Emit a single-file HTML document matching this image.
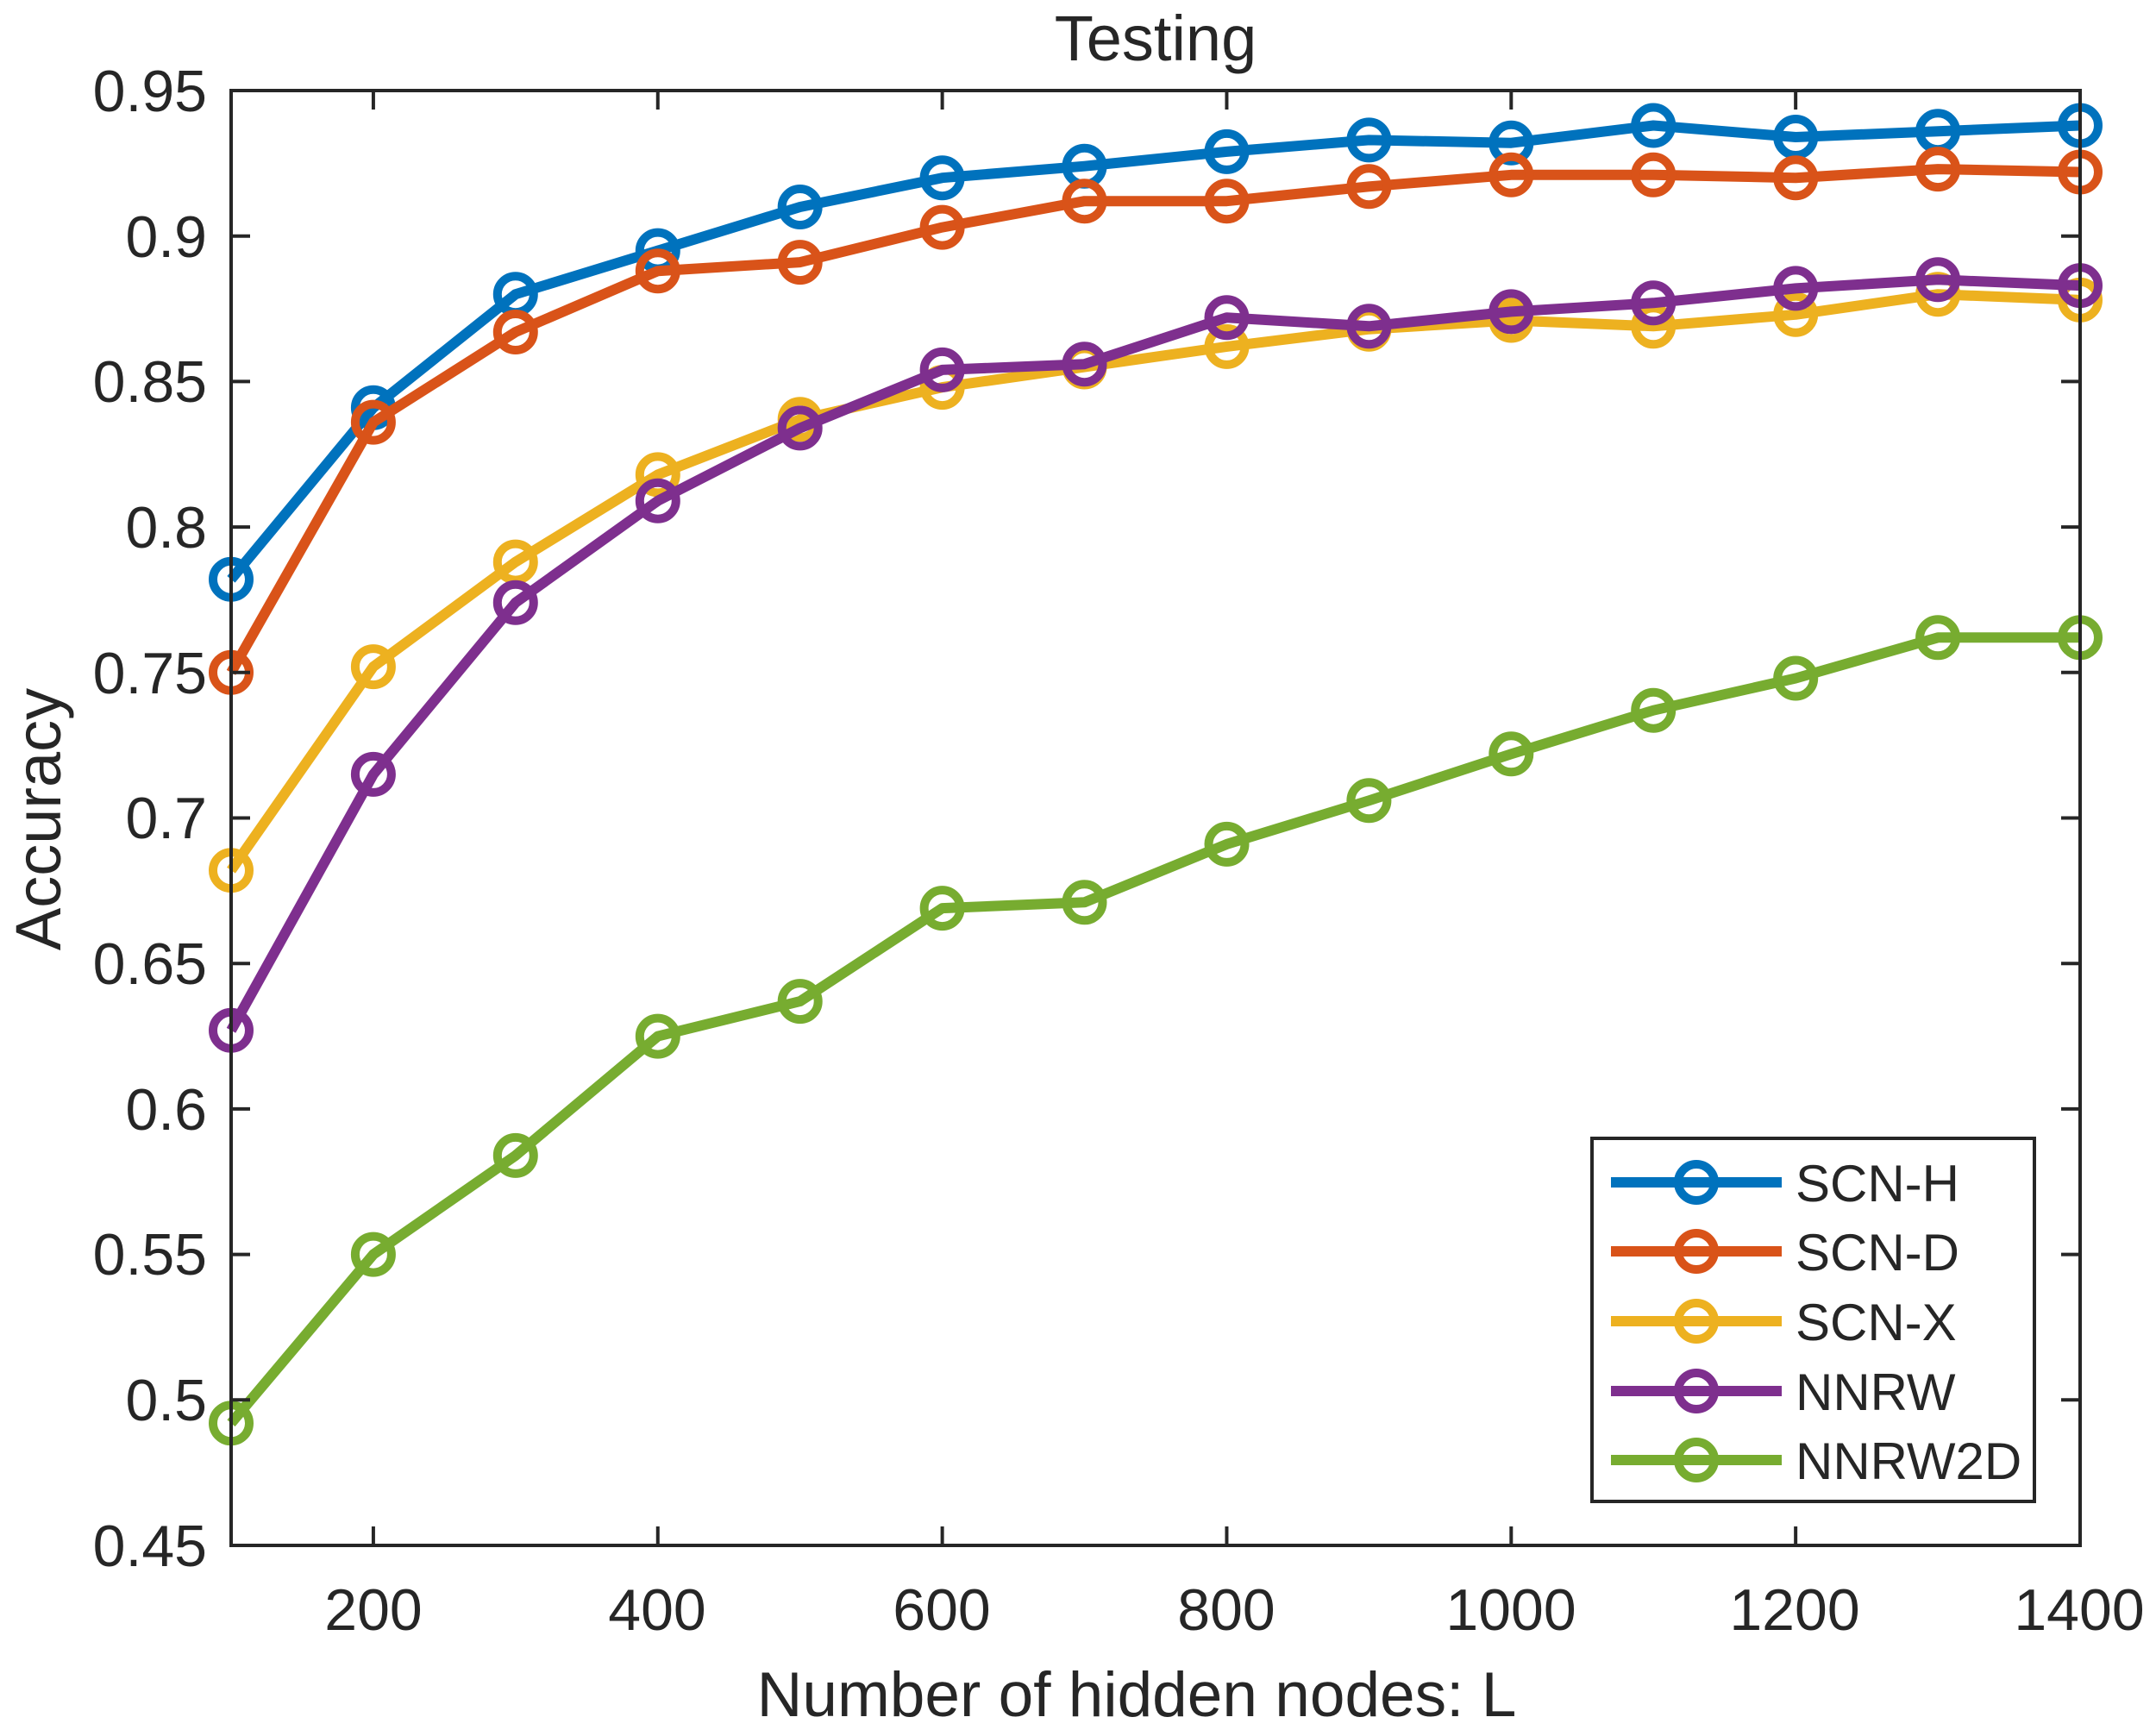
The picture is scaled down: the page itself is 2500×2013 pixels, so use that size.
<!DOCTYPE html>
<html><head><meta charset="utf-8"><style>
html,body{margin:0;padding:0;background:#fff;}
svg{display:block;}
text{font-family:"Liberation Sans",Arial,sans-serif;fill:#262626;}
</style></head><body>
<svg id="s" width="2500" height="2013" viewBox="0 0 2500 2013" xmlns="http://www.w3.org/2000/svg">
<rect width="2500" height="2013" fill="#fff"/>
<g id="data"></g>
<rect x="268" y="105" width="2144" height="1687" fill="none" stroke="#262626" stroke-width="4"/>
<g id="ticks" stroke="#262626" stroke-width="4"></g>
<g font-size="68" text-anchor="end">
<text x="240" y="129">0.95</text><text x="240" y="298">0.9</text><text x="240" y="466">0.85</text>
<text x="240" y="635">0.8</text><text x="240" y="804">0.75</text><text x="240" y="972">0.7</text>
<text x="240" y="1141">0.65</text><text x="240" y="1310">0.6</text><text x="240" y="1478">0.55</text>
<text x="240" y="1647">0.5</text><text x="240" y="1816">0.45</text>
</g>
<g font-size="68" text-anchor="middle">
<text x="433" y="1890">200</text><text x="762" y="1890">400</text><text x="1092" y="1890">600</text>
<text x="1422" y="1890">800</text><text x="1752" y="1890">1000</text><text x="2081" y="1890">1200</text>
<text x="2411" y="1890">1400</text>
<text x="1318" y="1990" font-size="73">Number of hidden nodes: L</text>
<text x="1340" y="70" font-size="74">Testing</text>
<text transform="translate(70,950) rotate(-90)" font-size="74">Accuracy</text>
</g>
<rect x="1846" y="1320" width="513" height="421" fill="#fff" stroke="#262626" stroke-width="4"/>
<g id="leg"></g>
<g font-size="60" fill="#000">
<text x="2082" y="1393">SCN-H</text><text x="2082" y="1473">SCN-D</text><text x="2082" y="1554">SCN-X</text>
<text x="2082" y="1635">NNRW</text><text x="2082" y="1715">NNRW2D</text>
</g>
</svg>
<script>
var L=268,R=2412,T=105,B=1792;
function X(v){return L+(v-100)/1300*(R-L);}
function Y(v){return B-(v-0.45)/0.5*(B-T);}
var S=[
["#0072bd",[0.782,0.841,0.880,0.895,0.910,0.920,0.924,0.929,0.933,0.932,0.938,0.934,0.936,0.938]],
["#d95319",[0.750,0.836,0.867,0.888,0.891,0.903,0.912,0.912,0.917,0.921,0.921,0.920,0.923,0.922]],
["#edb120",[0.682,0.752,0.788,0.818,0.837,0.848,0.855,0.862,0.868,0.871,0.869,0.873,0.880,0.878]],
["#7e2f8e",[0.627,0.715,0.774,0.809,0.834,0.854,0.856,0.872,0.869,0.874,0.877,0.882,0.885,0.883]],
["#77ac30",[0.492,0.550,0.584,0.625,0.637,0.669,0.671,0.691,0.706,0.722,0.737,0.748,0.762,0.762]]];
var h="";
S.forEach(function(s){var p=s[1].map(function(v,i){return X(100+i*100).toFixed(1)+","+Y(v).toFixed(1)}).join(" ");
h+='<polyline points="'+p+'" fill="none" stroke="'+s[0]+'" stroke-width="12" stroke-linejoin="round"/>';
s[1].forEach(function(v,i){h+='<circle cx="'+X(100+i*100).toFixed(1)+'" cy="'+Y(v).toFixed(1)+'" r="21" fill="none" stroke="'+s[0]+'" stroke-width="10"/>';});});
document.getElementById("data").innerHTML=h;
var t="";
for(var x=200;x<=1400;x+=200){var xx=X(x);t+='<line x1="'+xx+'" y1="'+B+'" x2="'+xx+'" y2="'+(B-22)+'"/><line x1="'+xx+'" y1="'+T+'" x2="'+xx+'" y2="'+(T+22)+'"/>';}
for(var k=0;k<=10;k++){var yy=Y(0.45+k*0.05);t+='<line x1="'+L+'" y1="'+yy+'" x2="'+(L+22)+'" y2="'+yy+'"/><line x1="'+R+'" y1="'+yy+'" x2="'+(R-22)+'" y2="'+yy+'"/>';}
document.getElementById("ticks").innerHTML=t;
var g="",ly=[1371,1451,1532,1613,1693];
S.forEach(function(s,i){g+='<line x1="1868" y1="'+ly[i]+'" x2="2066" y2="'+ly[i]+'" stroke="'+s[0]+'" stroke-width="12"/><circle cx="1967" cy="'+ly[i]+'" r="21" fill="none" stroke="'+s[0]+'" stroke-width="10"/>';});
document.getElementById("leg").innerHTML=g;
</script>
</body></html>
